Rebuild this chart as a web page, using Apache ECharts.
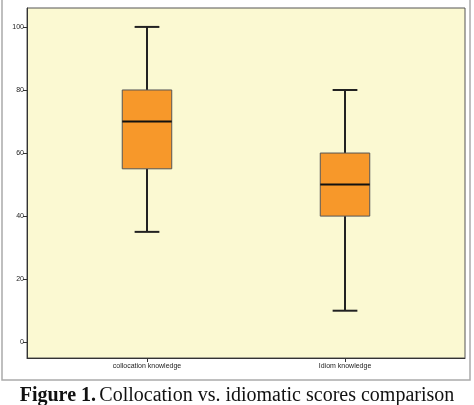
<!DOCTYPE html>
<html><head><meta charset="utf-8">
<script src="https://cdn.jsdelivr.net/npm/echarts@6/dist/echarts.min.js"></script>
<style>html,body{margin:0;padding:0;background:#fff}#c{width:474px;height:405px}</style>
</head><body><div id="c"></div>
<script>
const categories = ['collocation knowledge', 'Idiom knowledge'];
const positions = [1, 2];
const mins = [35, 10];
const q1s = [55, 40];
const medians = [70, 50];
const q3s = [80, 60];
const maxs = [100, 80];
const yTicks = [0, 20, 40, 60, 80, 100];

const data = categories.map((c, i) => [positions[i], mins[i], q1s[i], medians[i], q3s[i], maxs[i]]);
const chart = echarts.init(document.getElementById('c'));
chart.setOption({
  animation: false,
  graphic: [
    {type: 'rect', shape: {x: 2, y: -2, width: 468, height: 382}, style: {fill: 'none', stroke: '#aaa', lineWidth: 1.5}, z: -1},
    {type: 'text', left: 'center', top: 386, style: {rich: {b: {fontWeight: 'bold', fontFamily: 'Liberation Serif', fontSize: 20, fill: '#111'}, n: {fontFamily: 'Liberation Serif', fontSize: 20, fill: '#111'}}, text: '{b|Figure 1.} {n|Collocation vs. idiomatic scores comparison}'}}
  ],
  grid: {left: 27, right: 9, top: 8, bottom: 47, show: true, backgroundColor: '#fbf9d2', borderColor: '#555', borderWidth: 1},
  xAxis: {type: 'value', min: 0.394, max: 2.606, splitLine: {show: false},
    axisLine: {onZero: false, lineStyle: {color: '#333'}},
    axisTick: {show: true, length: 4, customValues: positions, lineStyle: {color: '#333'}},
    axisLabel: {fontSize: 7, color: '#222', fontFamily: 'Liberation Sans', margin: 5, customValues: positions,
      formatter: v => categories[positions.indexOf(v)] || ''}},
  yAxis: {type: 'value', min: -5, max: 106, splitLine: {show: false},
    axisLine: {show: true, onZero: false, lineStyle: {color: '#333'}},
    axisTick: {show: true, length: 4, customValues: yTicks, lineStyle: {color: '#333'}},
    axisLabel: {fontSize: 7, color: '#222', fontFamily: 'Liberation Sans', margin: 3, customValues: yTicks}},
  series: [{
    type: 'custom',
    data: data,
    renderItem: function (params, api) {
      const x = api.value(0);
      const pMin = api.coord([x, api.value(1)]);
      const pQ1 = api.coord([x, api.value(2)]);
      const pMed = api.coord([x, api.value(3)]);
      const pQ3 = api.coord([x, api.value(4)]);
      const pMax = api.coord([x, api.value(5)]);
      const bw = api.size([0.25, 0])[0];
      const cw = bw / 2;
      const cx = pMin[0];
      const ls = {stroke: '#222', lineWidth: 2};
      return {type: 'group', children: [
        {type: 'line', shape: {x1: cx, y1: pMax[1], x2: cx, y2: pQ3[1]}, style: ls},
        {type: 'line', shape: {x1: cx, y1: pQ1[1], x2: cx, y2: pMin[1]}, style: ls},
        {type: 'line', shape: {x1: cx - cw / 2, y1: pMax[1], x2: cx + cw / 2, y2: pMax[1]}, style: ls},
        {type: 'line', shape: {x1: cx - cw / 2, y1: pMin[1], x2: cx + cw / 2, y2: pMin[1]}, style: ls},
        {type: 'rect', shape: {x: cx - bw / 2, y: pQ3[1], width: bw, height: pQ1[1] - pQ3[1]}, style: {fill: '#f7982a', stroke: '#555', lineWidth: 1}},
        {type: 'line', shape: {x1: cx - bw / 2, y1: pMed[1], x2: cx + bw / 2, y2: pMed[1]}, style: {stroke: '#111', lineWidth: 2}}
      ]};
    }
  }]
});
</script></body></html>
